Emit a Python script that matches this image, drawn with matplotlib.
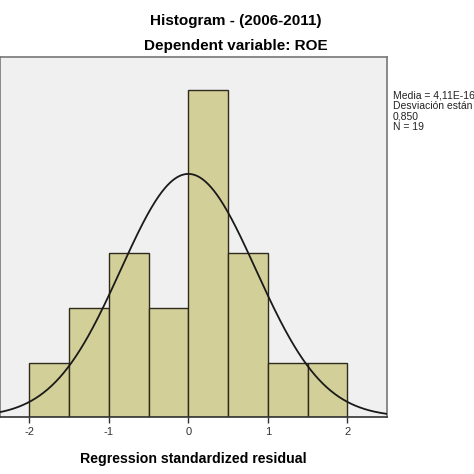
import numpy as np
import matplotlib
matplotlib.use("Agg")
import matplotlib.pyplot as plt

bin_edges = [-2.0, -1.5, -1.0, -0.5, 0.0, 0.5, 1.0, 1.5, 2.0]
counts = [1, 2, 3, 2, 6, 3, 1, 1]
mean = 0.0
std = 0.850
n = 19
xticks = [-2, -1, 0, 1, 2]
stats_text = ["Media = 4,11E-16", "Desviación están", "0,850", "N = 19"]

plt.rcParams['font.family'] = ['Liberation Sans', 'DejaVu Sans']

fig = plt.figure(figsize=(4.74, 4.74), dpi=100)
fig.patch.set_facecolor('white')
ax = fig.add_axes([0.0, 0.12, 0.8165, 0.7595])
ax.set_facecolor('#F0F0F0')

lefts = bin_edges[:-1]
widths = np.diff(bin_edges)
ax.bar(lefts, counts, width=widths, align='edge', color='#D3CF98',
       edgecolor='#2E2A1E', linewidth=1.0, zorder=2)

xs = np.linspace(-2.5, 2.6, 400)
bw = widths[0]
ys = n * bw * np.exp(-0.5 * ((xs - mean) / std) ** 2) / (std * np.sqrt(2 * np.pi))
ax.plot(xs, ys, color='#1A1A1A', linewidth=1.3, zorder=3)

ax.set_xlim(-2.37, 2.50)
ax.set_ylim(0, 6.6)
ax.set_xticks(xticks)
ax.set_xticklabels([str(t) for t in xticks], fontsize=8, color='#333333')
ax.set_yticks([])
ax.tick_params(axis='x', direction='out', length=4, width=1, color='#333333', pad=3)
for side in ['top', 'right', 'left']:
    ax.spines[side].set_color('#777777')
    ax.spines[side].set_linewidth(1.2)
ax.spines['bottom'].set_color('#333333')
ax.spines['bottom'].set_linewidth(1.2)

ax.set_xlabel("Regression standardized residual", fontsize=10.2, fontweight='bold', labelpad=11)

fig.text(0.497, 0.955, "Histogram - (2006-2011)", ha='center', va='center',
         fontsize=11, fontweight='bold')
fig.text(0.497, 0.903, "Dependent variable: ROE", ha='center', va='center',
         fontsize=11, fontweight='bold')

y0 = 0.7975
for i, t in enumerate(stats_text):
    fig.text(0.829, y0 - i * 0.0215, t, ha='left', va='center', fontsize=7.5, color='#222222')

fig.savefig("out.png", dpi=100, facecolor='white')
